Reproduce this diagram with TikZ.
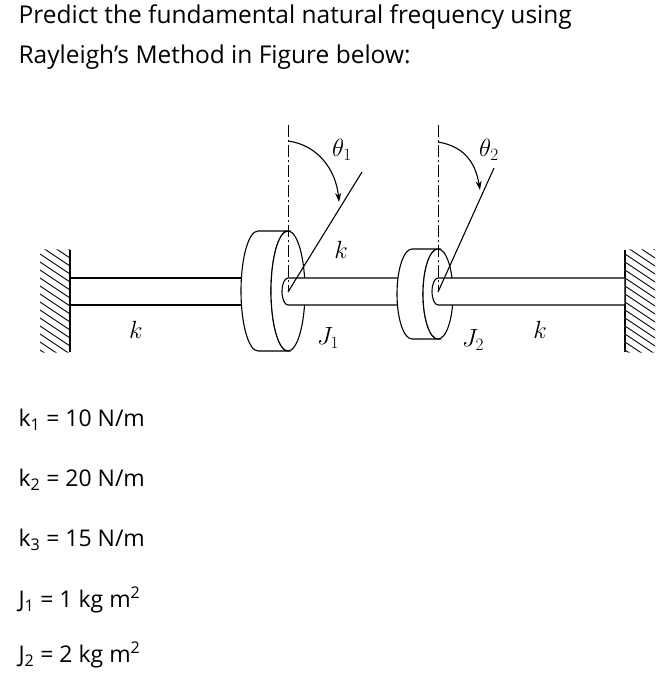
\documentclass[tikz,border=0pt]{standalone}
\usepackage{fontspec}
\setmainfont{Open Sans}
\usetikzlibrary{patterns,arrows.meta}
\begin{document}
\begin{tikzpicture}[x=1pt,y=-1pt,line width=1.1pt,
  lab/.style={font=\fontsize{27}{27}\selectfont},
  txt/.style={anchor=west,font=\fontsize{23}{28}\selectfont,inner sep=0}]
\useasboundingbox (0,0) rectangle (669,700);
\node[txt,anchor=north west,align=left,font=\fontsize{24.5}{40}\selectfont] (title) at (18,4) {Predict the fundamental natural frequency using\\Rayleigh's Method in Figure below:};
% walls
\foreach \yy in {240,248,...,360} {\draw[line width=0.9pt] (40,\yy-10) -- (70,\yy+10);}
\fill[white] (30,200) rectangle (39.5,380);
\fill[white] (30,352.5) rectangle (75,380) (30,210) rectangle (75,249.5);
\draw (70,250) -- (70,352);
\foreach \yy in {240,248,...,360} {\draw[line width=0.9pt] (625,\yy-10) -- (655,\yy+10);}
\fill[white] (655.5,200) rectangle (669,380);
\fill[white] (620,352.5) rectangle (669,380) (620,210) rectangle (669,249.5);
\draw (625,250) -- (625,352);
% left shaft
\draw (70,278) -- (245,278) (70,305) -- (245,305);
% disk1
\draw[fill=white] (258,231) -- (288,231) arc[start angle=270,end angle=90,x radius=17,y radius=60] -- (258,351) arc[start angle=90,end angle=270,x radius=17,y radius=60];
\draw[fill=white] (288,291) ellipse[x radius=17,y radius=60];
% middle shaft
\draw[fill=white] (288,278) -- (400,278) -- (400,305) -- (288,305) arc[start angle=90,end angle=270,x radius=6,y radius=13.5];
% disk2
\draw[fill=white] (412,249) -- (438,249) arc[start angle=270,end angle=90,x radius=15,y radius=45] -- (412,339) arc[start angle=90,end angle=270,x radius=15,y radius=45];
\draw[fill=white] (438,294) ellipse[x radius=15,y radius=45];
% right shaft
\draw[fill=white] (438,278) -- (625,278) -- (625,305) -- (438,305) arc[start angle=90,end angle=270,x radius=6,y radius=13.5];
% dashed verticals and angle lines
\coordinate (c1) at (288,292); \coordinate (t1) at (288,125); \coordinate (e1) at (362,172);
\coordinate (c2) at (438,292); \coordinate (t2) at (438,125); \coordinate (e2) at (494,168);
\draw[line width=0.8pt,dash pattern=on 12pt off 3pt on 2pt off 3pt] (t1) -- (c1);
\draw[line width=0.8pt,dash pattern=on 12pt off 3pt on 2pt off 3pt] (t2) -- (c2);
\draw (c1) -- (e1);
\draw (c2) -- (e2);
\draw[-{Stealth[length=9pt,width=6pt]}] (288,141) .. controls (318,145) and (336,170) .. (339,202);
\draw[-{Stealth[length=9pt,width=6pt]}] (438,142) .. controls (462,146) and (475,160) .. (480,190);
% labels
\node[lab] (th1) at (342,150) {$\theta_1$};
\node[lab] (th2) at (489,150) {$\theta_2$};
\node[lab] (k1) at (136,330) {$k$};
\node[lab] (k2) at (341,250) {$k$};
\node[lab] (k3) at (540,330) {$k$};
\node[lab] (J1) at (328,338) {$J_1$};
\node[lab] (J2) at (473,340) {$J_2$};
% data
\node[txt] (d1) at (18,420) {k\textsubscript{1} = 10 N/m};
\node[txt] (d2) at (18,480) {k\textsubscript{2} = 20 N/m};
\node[txt] (d3) at (18,540) {k\textsubscript{3} = 15 N/m};
\node[txt] (d4) at (18,600) {J\textsubscript{1} = 1 kg m\textsuperscript{2}};
\node[txt] (d5) at (18,655) {J\textsubscript{2} = 2 kg m\textsuperscript{2}};
\end{tikzpicture}
\end{document}
